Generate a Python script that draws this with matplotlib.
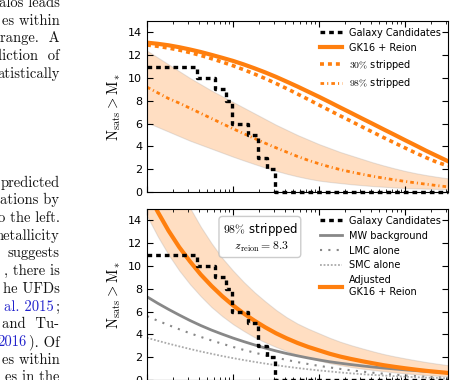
import numpy as np
import matplotlib.pyplot as plt
from matplotlib.ticker import LogLocator, NullFormatter

plt.rcParams['mathtext.fontset'] = 'cm'

# log10 stellar mass grid where curves were read
log_m = [2.0, 2.125, 2.25, 2.375, 2.5, 2.625, 2.75, 2.875, 3.0, 3.125, 3.25, 3.375, 3.5,
         3.625, 3.75, 3.875, 4.0, 4.125, 4.25, 4.375, 4.5, 4.625, 4.75, 4.875, 5.0,
         5.125, 5.25, 5.375, 5.5]

# galaxy candidates (log10 M*)
cand_log_mass = [2.58, 2.79, 2.92, 2.99, 2.99, 3.17, 3.29, 3.29, 3.40, 3.49, 3.49]

# top panel
gk16 = [13.1, 13.0, 12.87, 12.7, 12.5, 12.28, 12.03, 11.77, 11.5, 11.19, 10.85, 10.49, 10.1,
        9.68, 9.25, 8.8, 8.35, 7.88, 7.4, 6.93, 6.45, 5.98, 5.5, 5.03, 4.55, 4.08, 3.6,
        3.15, 2.7]
strip30 = [12.9, 12.78, 12.63, 12.45, 12.23, 11.98, 11.7, 11.4, 11.08, 10.73, 10.35, 9.95,
           9.52, 9.07, 8.6, 8.12, 7.63, 7.15, 6.67, 6.2, 5.72, 5.25, 4.78, 4.32, 3.87,
           3.42, 3.0, 2.6, 2.3]
strip98 = [9.2, 8.7, 8.2, 7.8, 7.35, 6.9, 6.45, 6.0, 5.55, 5.12, 4.7, 4.28, 3.88, 3.5, 3.12,
           2.78, 2.48, 2.2, 1.96, 1.75, 1.56, 1.38, 1.22, 1.07, 0.93, 0.8, 0.68, 0.56, 0.45]
strip98_hi = [12.4, 11.8, 11.2, 10.6, 10.0, 9.45, 8.9, 8.4, 7.9, 7.4, 6.9, 6.4, 5.9, 5.45,
              5.0, 4.6, 4.2, 3.85, 3.5, 3.2, 2.9, 2.6, 2.33, 2.08, 1.85, 1.65, 1.48, 1.33,
              1.2]
strip98_lo = [6.1, 5.7, 5.3, 4.9, 4.5, 4.15, 3.8, 3.45, 3.1, 2.77, 2.45, 2.14, 1.86, 1.6,
              1.37, 1.17, 1.0, 0.88, 0.78, 0.68, 0.6, 0.52, 0.46, 0.4, 0.35, 0.32, 0.29,
              0.27, 0.25]

# bottom panel
adjusted = [16.6, 14.75, 13.1, 11.65, 10.4, 9.25, 8.25, 7.35, 6.55, 5.83, 5.2, 4.62, 4.1,
            3.65, 3.25, 2.9, 2.6, 2.3, 2.05, 1.84, 1.65, 1.47, 1.3, 1.16, 1.03, 0.91, 0.8,
            0.71, 0.62]
adjusted_hi = [24.0, 21.4, 19.0, 16.9, 15.1, 13.45, 12.0, 10.7, 9.6, 8.6, 7.7, 6.9, 6.15,
               5.5, 4.95, 4.5, 4.1, 3.7, 3.35, 3.05, 2.78, 2.52, 2.28, 2.08, 1.9, 1.73,
               1.57, 1.43, 1.3]
adjusted_lo = [14.4, 12.6, 11.0, 9.6, 8.4, 7.35, 6.4, 5.6, 4.9, 4.3, 3.75, 3.3, 2.9, 2.53,
               2.2, 1.93, 1.7, 1.48, 1.3, 1.14, 1.0, 0.88, 0.77, 0.67, 0.58, 0.5, 0.43,
               0.37, 0.32]
mw_bg = [7.3, 6.73, 6.2, 5.7, 5.22, 4.78, 4.38, 4.02, 3.68, 3.37, 3.08, 2.8, 2.55, 2.32,
         2.12, 1.93, 1.76, 1.6, 1.47, 1.35, 1.24, 1.14, 1.05, 0.97, 0.89, 0.82, 0.75, 0.69,
         0.63]
lmc = [5.6, 5.2, 4.82, 4.45, 4.1, 3.78, 3.47, 3.18, 2.9, 2.64, 2.4, 2.17, 1.96, 1.76, 1.57,
       1.4, 1.24, 1.1, 0.97, 0.85, 0.74, 0.64, 0.55, 0.47, 0.4, 0.34, 0.28, 0.23, 0.19]
smc = [3.7, 3.44, 3.19, 2.95, 2.72, 2.5, 2.3, 2.1, 1.92, 1.75, 1.59, 1.44, 1.3, 1.17, 1.05,
       0.94, 0.84, 0.75, 0.66, 0.58, 0.51, 0.45, 0.39, 0.34, 0.29, 0.25, 0.21, 0.18, 0.15]

# bits of the paper text to the left of the figure (text, baseline in px)
side_text = [
    ("alos leads", 7), ("es within", 24.7), ("range.  A", 42.4), ("diction  of", 60.1),
    ("atistically", 77.8),
    ("predicted", 186.7), ("ations by", 204.4), ("o the left.", 222.1),
    ("netallicity", 239.8), ("suggests", 257.5), (", there is", 275.2),
    ("he UFDs", 292.9), ("and  Tu-", 328.3), ("es within", 363.7), ("es in the", 381.4),
]
blue_text = [("al. 2015", ";", 310.6), ("2016", "). Of", 346.0)]

orange = '#ff7f0e'
W, H = 474, 380

fig = plt.figure(figsize=(W / 100, H / 100), dpi=100)
ax1 = fig.add_axes([147 / W, 1 - 192 / H, 301 / W, 171 / H])
ax2 = fig.add_axes([147 / W, 0.0, 301 / W, 171 / H])

m = 10 ** np.array(log_m)
cand = np.sort(10 ** np.array(cand_log_mass))
step_x = np.concatenate([[m[0]], cand, [m[-1]]])
step_y = [np.sum(cand > x) for x in step_x]

for ax in (ax1, ax2):
    ax.step(step_x, step_y, where='post', color='k', lw=2.4, clip_on=False,
            ls=(0, (1.4, 1.2)), label='Galaxy Candidates', zorder=5)

# top panel
ax1.fill_between(m, strip98_lo, strip98_hi, facecolor=orange, alpha=0.25,
                 edgecolor='#999999', lw=0.8)
ax1.plot(m, gk16, color=orange, lw=3, label='GK16 + Reion')
ax1.plot(m, strip30, color=orange, lw=2.6, ls=(0, (1.1, 1.1)), label=r'$30\%$ stripped')
ax1.plot(m, strip98, color=orange, lw=2.0, ls=(0, (1.3, 1.1, 0.4, 1.1)),
         label=r'$98\%$ stripped')
ax1.legend(loc='upper right', frameon=False, fontsize=7, handlelength=2.2,
           borderaxespad=0.3)

# bottom panel
ax2.fill_between(m, adjusted_lo, adjusted_hi, facecolor=orange, alpha=0.25,
                 edgecolor='#999999', lw=0.8)
ax2.plot(m, mw_bg, color='#888888', lw=2, label='MW background')
ax2.plot(m, lmc, color='#888888', lw=1.5, ls=(0, (1, 3)), label='LMC alone')
ax2.plot(m, smc, color='#aaaaaa', lw=1.3, ls=(0, (1, 1)), label='SMC alone')
ax2.plot(m, adjusted, color=orange, lw=3, label='Adjusted\nGK16 + Reion')
h, l = ax2.get_legend_handles_labels()
order = [l.index('Galaxy Candidates'), l.index('MW background'), l.index('LMC alone'),
         l.index('SMC alone'), l.index('Adjusted\nGK16 + Reion')]
ax2.legend([h[i] for i in order], [l[i] for i in order], loc='upper right',
           frameon=False, fontsize=7, handlelength=2.2, borderaxespad=0.3,
           labelspacing=0.5)
ax2.text(0.375, 0.93, '$98\\%$ stripped\n $z_{\\rm reion} = 8.3$', transform=ax2.transAxes,
         ha='center', va='top', fontsize=8.5, zorder=6,
         bbox=dict(boxstyle='round,pad=0.3', facecolor='white', alpha=0.75,
                   edgecolor='#bbbbbb'))

for ax in (ax1, ax2):
    ax.set_xscale('log')
    ax.set_xlim(m[0], m[-1])
    ax.set_ylim(0, 15)
    ax.set_yticks(range(0, 15, 2))
    ax.xaxis.set_major_locator(LogLocator(base=10))
    ax.xaxis.set_minor_locator(LogLocator(base=10, subs=np.arange(2, 10)))
    ax.xaxis.set_minor_formatter(NullFormatter())
    ax.tick_params(which='both', direction='in', top=True, right=True, labelsize=8)
    ax.tick_params(which='major', length=4)
    ax.tick_params(which='minor', length=2)
    ax.set_xticklabels([])
    ax.set_ylabel(r'$\mathrm{N_{sats}} > \mathrm{M_*}$', fontsize=10.5)
    ax.yaxis.set_label_coords(-0.08, 0.5)

# paper text on the left
for s, yb in side_text:
    fig.text(59.5 / W, 1 - yb / H, s, ha='right', va='baseline', family='cmr10',
             fontsize=10.5, color='#111111')
fig.text(53.5 / W, 1 - blue_text[0][2] / H, blue_text[0][0], ha='right', va='baseline',
         family='cmr10', fontsize=10.5, color='#2222cc')
fig.text(59.5 / W, 1 - blue_text[0][2] / H, blue_text[0][1], ha='right', va='baseline',
         family='cmr10', fontsize=10.5, color='#111111')
fig.text(27 / W, 1 - blue_text[1][2] / H, blue_text[1][0], ha='right', va='baseline',
         family='cmr10', fontsize=10.5, color='#2222cc')
fig.text(59.5 / W, 1 - blue_text[1][2] / H, blue_text[1][1], ha='right', va='baseline',
         family='cmr10', fontsize=10.5, color='#111111')

fig.savefig('out.png', dpi=100)
